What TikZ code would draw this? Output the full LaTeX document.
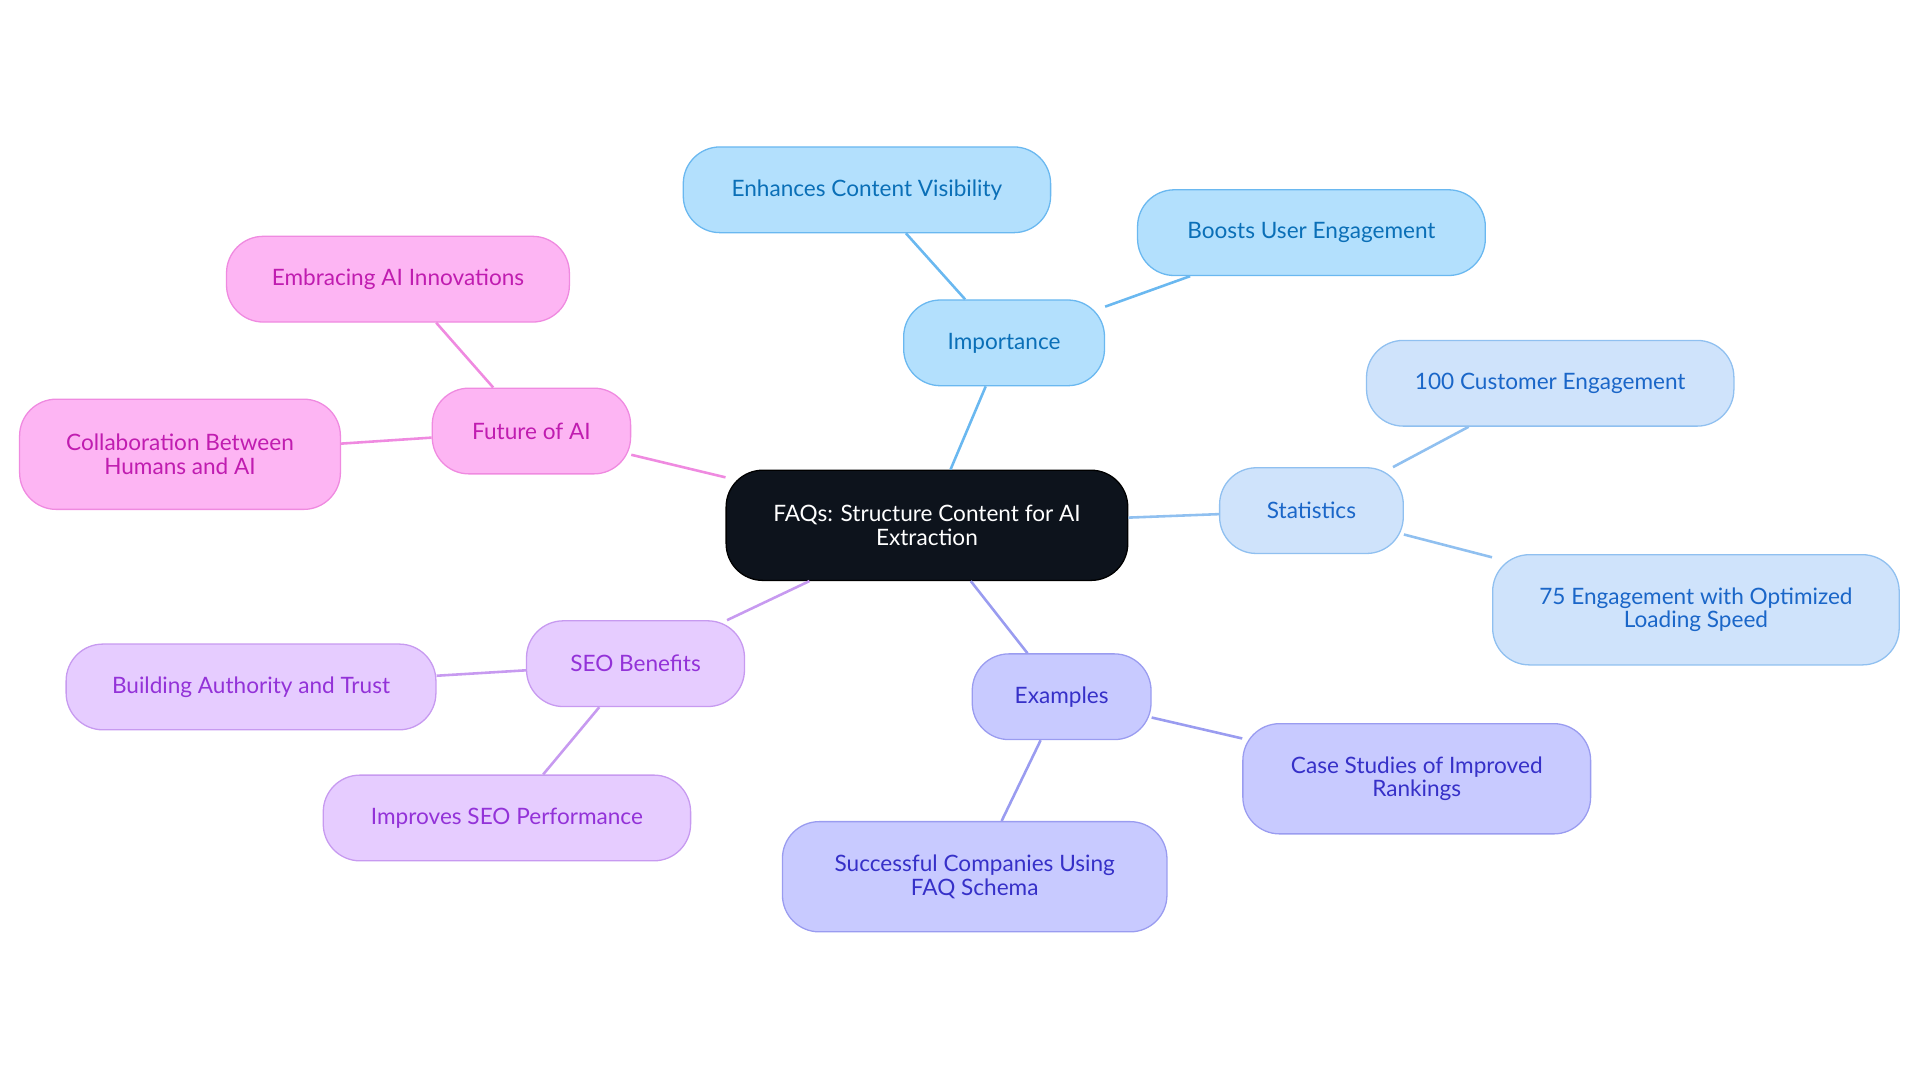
\documentclass[tikz,border=0pt]{standalone}
\usepackage{fontspec}
\setmainfont{Lato}
\usetikzlibrary{positioning}
\definecolor{impF}{HTML}{B3E0FD}\definecolor{impD}{HTML}{6AB8F0}\definecolor{impT}{HTML}{0A6FB7}
\definecolor{staF}{HTML}{CFE3FB}\definecolor{staD}{HTML}{90C0F0}\definecolor{staT}{HTML}{1A66C8}
\definecolor{exaF}{HTML}{C8CAFF}\definecolor{exaD}{HTML}{9A9CF0}\definecolor{exaT}{HTML}{3630C8}
\definecolor{seoF}{HTML}{E6CCFF}\definecolor{seoD}{HTML}{C79AF0}\definecolor{seoT}{HTML}{9332D8}
\definecolor{futF}{HTML}{FDB5F3}\definecolor{futD}{HTML}{EF8AE0}\definecolor{futT}{HTML}{C01CB0}
\definecolor{rootF}{HTML}{0D131C}
\begin{document}
\begin{tikzpicture}[x=0.02cm,y=-0.02cm,
        topic/.style={rounded corners=0.6cm, align=center, inner sep=0pt, font=\fontsize{10.5}{11}\selectfont, line width=0.6pt},
        imp/.style={topic, fill=impF, draw=impD, text=impT},
        sta/.style={topic, fill=staF, draw=staD, text=staT},
        exa/.style={topic, fill=exaF, draw=exaD, text=exaT},
        seo/.style={topic, fill=seoF, draw=seoD, text=seoT},
        fut/.style={topic, fill=futF, draw=futD, text=futT},
        sz/.style 2 args={minimum width=#1*0.02cm, minimum height=#2*0.02cm},
        link/.style={line width=1.2pt}
        ]
    \useasboundingbox (0,0) rectangle (1568,885);
    % centre
    \node[topic, fill=rootF, draw=black, text=white, sz={328}{90}] (root) at (757,429) {FAQs: Structure Content for AI\\Extraction};
    % branches
    \node[imp, sz={164}{70}] (importance) at (820,280) {Importance};
    \node[imp, sz={300}{70}] (visibility) at (708,155) {Enhances Content Visibility};
    \node[imp, sz={284}{70}] (engagement) at (1071,190) {Boosts User Engagement};
    \node[sta, sz={150}{70}] (statistics) at (1071,417) {Statistics};
    \node[sta, sz={300}{70}] (customer) at (1266,313) {100 Customer Engagement};
    \node[sta, sz={332}{90}] (loading) at (1385,498) {75 Engagement with Optimized\\Loading Speed};
    \node[exa, sz={146}{70}] (examples) at (867,569) {Examples};
    \node[exa, sz={284}{90}] (cases) at (1157,636) {Case Studies of Improved\\Rankings};
    \node[exa, sz={314}{90}] (companies) at (796,716) {Successful Companies Using\\FAQ Schema};
    \node[seo, sz={178}{70}] (seo) at (519,542) {SEO Benefits};
    \node[seo, sz={302}{70}] (authority) at (205,561) {Building Authority and Trust};
    \node[seo, sz={300}{70}] (performance) at (414,668) {Improves SEO Performance};
    \node[fut, sz={162}{70}] (future) at (434,352) {Future of AI};
    \node[fut, sz={280}{70}] (innovations) at (325,228) {Embracing AI Innovations};
    \node[fut, sz={262}{90}] (humans) at (147,371) {Collaboration Between\\Humans and AI};
    % connectors
    \draw[link, impD] (root) -- (importance) (importance) -- (visibility) (importance) -- (engagement);
    \draw[link, staD] (root) -- (statistics) (statistics) -- (customer) (statistics) -- (loading);
    \draw[link, exaD] (root) -- (examples) (examples) -- (cases) (examples) -- (companies);
    \draw[link, seoD] (root) -- (seo) (seo) -- (authority) (seo) -- (performance);
    \draw[link, futD] (root) -- (future) (future) -- (innovations) (future) -- (humans);
\end{tikzpicture}
\end{document}
